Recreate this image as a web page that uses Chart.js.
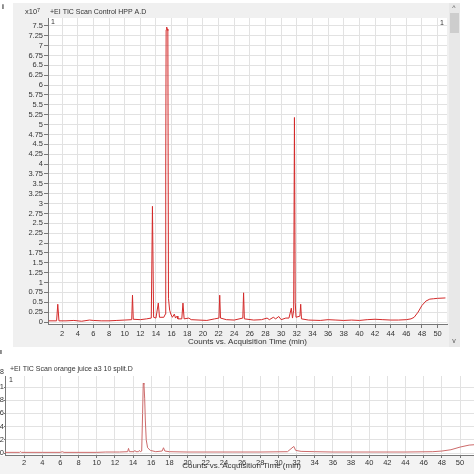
<!DOCTYPE html>
<html>
<head>
<meta charset="utf-8">
<script src="https://cdn.jsdelivr.net/npm/chart.js@4.4.1/dist/chart.umd.min.js"></script>
<style>
  html, body { margin: 0; padding: 0; background: #fff; width: 474px; height: 474px; overflow: hidden; }
  #topBox { position: absolute; left: 0; top: 0; width: 474px; height: 350px; }
  #botBox { position: absolute; left: 0; top: 350px; width: 474px; height: 124px; overflow: hidden; }
  #botBox canvas { position: absolute; left: -30px; top: 0; }
</style>
</head>
<body>
<div id="topBox"><canvas id="topChart" width="474" height="350"></canvas></div>
<div id="botBox"><canvas id="botChart" width="520" height="124"></canvas></div>
<script>
// upper run: Control HPP (counts x10^7)
var topTime = [0.3, 1.3, 1.45, 1.6, 2.5, 3.5, 4.5, 5.5, 6.0, 7.0, 8.0, 9.0, 10.0, 10.9, 11.0, 11.1,
  12.0, 12.8, 13.4, 13.55, 13.7, 14.0, 14.3, 14.45, 15.0, 15.2, 15.25, 15.3, 15.37, 15.45, 15.52, 15.6,
  15.75, 15.9, 16.1, 16.35, 16.5, 16.7, 16.8, 17.3, 17.45, 17.6, 18.2, 18.5, 19.5, 20.5, 21.5, 22.05,
  22.15, 22.25, 23.0, 24.0, 25.1, 25.2, 25.3, 26.5, 27.5, 28.2, 28.5, 29.0, 29.3, 29.7, 30.0, 30.6,
  31.0, 31.3, 31.45, 31.6, 31.7, 31.8, 31.9, 32.4, 32.5, 32.6, 33.5, 35.0, 36.0, 37.0, 38.0, 39.0,
  40.0, 41.0, 42.0, 43.0, 44.0, 45.0, 46.0, 46.6, 47.0, 47.5, 48.0, 48.5, 49.0, 49.5, 50.0, 51.0];
var topCounts = [0.03, 0.03, 0.45, 0.03, 0.03, 0.04, 0.02, 0.05, 0.04, 0.03, 0.03, 0.04, 0.05, 0.06, 0.68, 0.07,
  0.06, 0.08, 0.1, 2.93, 0.12, 0.1, 0.48, 0.12, 0.12, 0.2, 3.85, 7.4, 7.47, 7.42, 7.38, 0.6,
  0.3, 0.2, 0.12, 0.2, 0.1, 0.15, 0.08, 0.08, 0.48, 0.08, 0.1, 0.06, 0.05, 0.04, 0.08, 0.1,
  0.68, 0.1, 0.06, 0.05, 0.1, 0.74, 0.08, 0.05, 0.06, 0.1, 0.06, 0.12, 0.08, 0.14, 0.06, 0.1,
  0.1, 0.35, 0.1, 0.3, 5.18, 0.5, 0.12, 0.15, 0.45, 0.08, 0.05, 0.04, 0.06, 0.05, 0.04, 0.05,
  0.04, 0.06, 0.07, 0.06, 0.05, 0.05, 0.06, 0.08, 0.12, 0.25, 0.42, 0.53, 0.58, 0.59, 0.6, 0.61];
var topYTicks = [0, 0.25, 0.5, 0.75, 1, 1.25, 1.5, 1.75, 2, 2.25, 2.5, 2.75, 3, 3.25, 3.5, 3.75, 4,
  4.25, 4.5, 4.75, 5, 5.25, 5.5, 5.75, 6, 6.25, 6.5, 6.75, 7, 7.25, 7.5];

// lower run: orange juice a3 10 split
var botTime = [-0.1, 1.5, 1.6, 1.7, 4, 6, 6.2, 6.4, 10, 11, 12.5, 13.4, 13.5, 13.6, 14.1, 14.2, 14.3,
  14.6, 14.7, 14.8, 14.95, 15.05, 15.12, 15.2, 15.28, 15.35, 15.45, 15.6, 15.9, 16.5, 17.2, 17.35, 17.5,
  18, 20, 22, 25, 28, 31.0, 31.7, 31.9, 32.5, 34, 36, 40, 44, 47, 48, 49, 50, 51, 52];
var botCounts = [0.01, 0.01, 0.02, 0.01, 0.01, 0.01, 0.02, 0.01, 0.01, 0.015, 0.015, 0.02, 0.07, 0.02, 0.02, 0.04, 0.02,
  0.02, 0.04, 0.02, 0.03, 0.6, 1.06, 1.04, 0.82, 0.5, 0.2, 0.08, 0.04, 0.02, 0.03, 0.08, 0.03,
  0.02, 0.015, 0.015, 0.015, 0.015, 0.02, 0.1, 0.04, 0.025, 0.02, 0.015, 0.015, 0.015, 0.02, 0.03, 0.05, 0.09, 0.12, 0.13];
var botYTicks = [0, 0.2, 0.4, 0.6, 0.8, 1];

var timeTicks = [2, 4, 6, 8, 10, 12, 14, 16, 18, 20, 22, 24, 26, 28, 30, 32, 34, 36, 38, 40,
  42, 44, 46, 48, 50];

var FONT = "'Liberation Sans Narrow', 'Liberation Sans', Arial, sans-serif";
var TXT = '#333';

function pts(xs, ys) {
  return xs.map(function (x, i) { return { x: x, y: ys[i] }; });
}

function fixTicks(list) {
  return function (scale) { scale.ticks = list.map(function (v) { return { value: v }; }); };
}

var topPanel = {
  id: 'topPanel',
  beforeDraw: function (chart) {
    var ctx = chart.ctx, a = chart.chartArea;
    ctx.save();
    ctx.fillStyle = '#f0f0f0';
    ctx.fillRect(13, 3, 447, 344);
    ctx.fillStyle = '#fff';
    ctx.fillRect(a.left, a.top, a.right - a.left, a.bottom - a.top);
    ctx.restore();
  },
  afterDraw: function (chart) {
    var ctx = chart.ctx;
    ctx.save();
    // scrollbar
    ctx.fillStyle = '#e8e8e8';
    ctx.fillRect(449, 3, 11, 344);
    ctx.fillStyle = '#cdcdcd';
    ctx.fillRect(450, 13, 9, 20);
    ctx.fillStyle = '#555';
    ctx.font = '7px ' + FONT;
    ctx.textAlign = 'center';
    ctx.textBaseline = 'middle';
    ctx.fillText('^', 454, 8);
    ctx.fillText('v', 454, 341);
    // headings
    ctx.fillStyle = TXT;
    ctx.textAlign = 'left';
    ctx.font = '7.5px ' + FONT;
    ctx.fillText('x10', 25, 12);
    ctx.font = '5.5px ' + FONT;
    ctx.fillText('7', 37, 10);
    ctx.font = '7px ' + FONT;
    ctx.fillText('+EI TIC Scan Control HPP A.D', 50, 12);
    ctx.font = '7px ' + FONT;
    ctx.fillText('1', 51, 22);
    ctx.fillText('1', 440, 23);
    ctx.fillStyle = '#222';
    ctx.font = 'bold 7px ' + FONT;
    ctx.fillText('i', 2, 7);
    ctx.restore();
  }
};

var botPanel = {
  id: 'botPanel',
  beforeDraw: function (chart) {
    var ctx = chart.ctx;
    ctx.save();
    ctx.fillStyle = '#f3f3f3';
    ctx.fillRect(0, 106, 520, 18);
    ctx.restore();
  },
  afterDraw: function (chart) {
    var ctx = chart.ctx;
    ctx.save();
    ctx.fillStyle = TXT;
    ctx.textBaseline = 'middle';
    ctx.textAlign = 'left';
    ctx.font = '7px ' + FONT;
    ctx.fillText('+EI TIC Scan orange juice a3 10 split.D', 40, 19);
    ctx.fillText('1', 39, 30);
    ctx.textAlign = 'right';
    ctx.fillText('x10 8', 34, 22);
    ctx.fillStyle = '#222';
    ctx.textAlign = 'left';
    ctx.font = 'bold 7px ' + FONT;
    ctx.fillText('i', 30, 2);
    ctx.restore();
  }
};

function axes(opt) {
  return {
    x: {
      type: 'linear', min: opt.xmin, max: opt.xmax,
      afterBuildTicks: fixTicks(timeTicks),
      afterFit: function (s) { s.height = opt.xh; },
      grid: { color: '#e2e2e2', tickColor: '#777', tickLength: opt.tl },
      border: { color: '#777' },
      ticks: { color: TXT, font: { family: FONT, size: 7.5 }, padding: opt.xpad, maxRotation: 0, autoSkip: false,
        callback: function (v) { return String(v); } },
      title: { display: true, text: 'Counts vs. Acquisition Time (min)', color: TXT,
        font: { family: FONT, size: 8 }, padding: { top: 0, bottom: opt.tpad } }
    },
    y: {
      type: 'linear', min: opt.ymin, max: opt.ymax,
      afterBuildTicks: fixTicks(opt.yt),
      afterFit: function (s) { s.width = opt.yw; },
      grid: { color: '#e2e2e2', tickColor: '#777', tickLength: opt.ytl },
      border: { color: '#777' },
      ticks: { color: TXT, font: { family: FONT, size: 7.5 }, padding: opt.ypad, autoSkip: false,
        callback: function (v) { return String(v); } }
    }
  };
}

new Chart(document.getElementById('topChart'), {
  type: 'line',
  data: { datasets: [{ data: pts(topTime, topCounts), borderColor: '#d42a2a', borderWidth: 1,
    pointRadius: 0, tension: 0, fill: false }] },
  options: {
    responsive: false, animation: false, parsing: false,
    layout: { padding: { left: 13, top: 18, right: 27, bottom: 3 } },
    plugins: { legend: { display: false }, tooltip: { enabled: false } },
    scales: axes({ xmin: 0.2, xmax: 51.2, xh: 23, tl: 4, xpad: 1, tpad: 0,
      ymin: -0.05, ymax: 7.7, yt: topYTicks, yw: 35, ytl: 4, ypad: 1 })
  },
  plugins: [topPanel]
});

new Chart(document.getElementById('botChart'), {
  type: 'line',
  data: { datasets: [{ data: pts(botTime, botCounts), borderColor: '#cc6a6a', borderWidth: 1,
    pointRadius: 0, tension: 0, fill: false }] },
  options: {
    responsive: false, animation: false, parsing: false,
    layout: { padding: { left: 0, top: 26, right: 11.8, bottom: 0 } },
    plugins: { legend: { display: false }, tooltip: { enabled: false } },
    scales: axes({ xmin: -0.1, xmax: 52, xh: 19, tl: 3, xpad: 0, tpad: 3,
      ymin: -0.03, ymax: 1.167, yt: botYTicks, yw: 35, ytl: 1, ypad: 0 })
  },
  plugins: [botPanel]
});
</script>
</body>
</html>
